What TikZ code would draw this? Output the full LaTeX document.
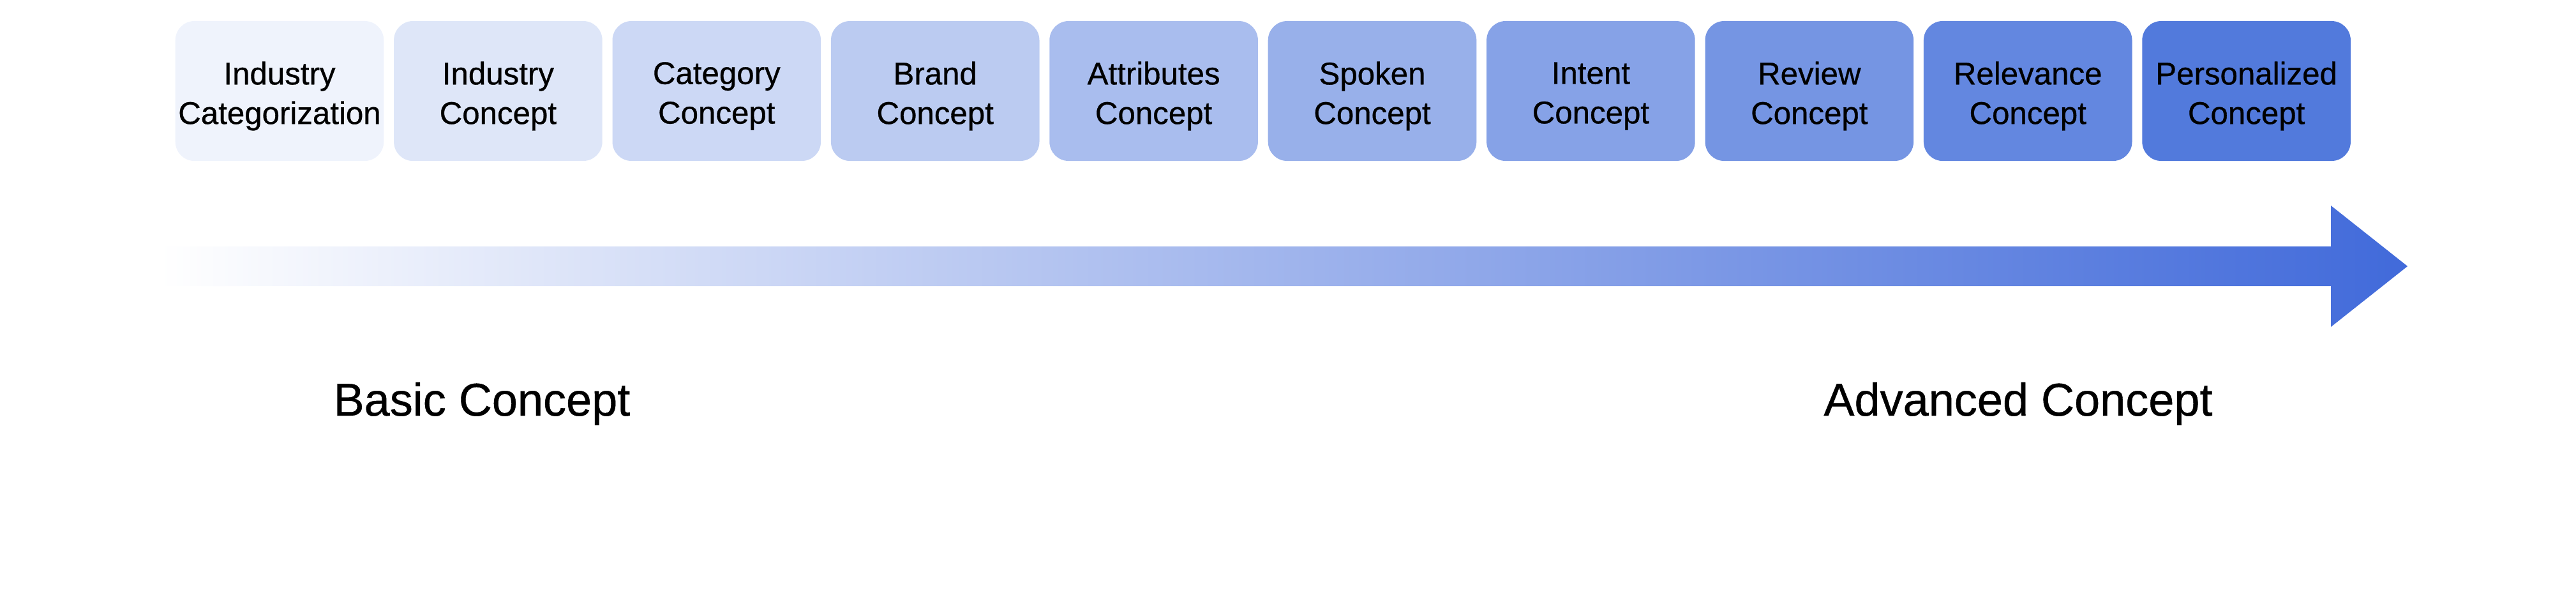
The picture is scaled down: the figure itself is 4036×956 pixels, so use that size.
\documentclass[tikz,border=0pt]{standalone}
\usepackage{fontspec}
\setmainfont{Liberation Sans}
\newfontfamily\medfont{Liberation Sans}[FakeBold=0.6]
\usetikzlibrary{positioning}
\definecolor{boxstart}{RGB}{239,243,252}
\definecolor{boxend}{RGB}{82,122,220}
\definecolor{arrowblue}{RGB}{65,106,218}

\begin{document}
\begin{tikzpicture}[x=0.01cm,y=-0.01cm,
  conceptbox/.style={rounded corners=0.3cm,minimum width=3.264cm,minimum height=2.19cm,
    inner sep=0pt},
  boxtext/.style={inner sep=0pt,align=center,font=\medfont\fontsize{14}{17.6}\selectfont},
  levellabel/.style={anchor=base,font=\medfont\fontsize{20.5}{24}\selectfont}]
\useasboundingbox (0,0) rectangle (4036,956);

% concept boxes, light to dark
\foreach \t [count=\i] in {Industry\\Categorization,Industry\\Concept,Category\\Concept,
    Brand\\Concept,Attributes\\Concept,Spoken\\Concept,Intent\\Concept,
    Review\\Concept,Relevance\\Concept,Personalized\\Concept} {
  \pgfmathsetmacro\mix{100*(\i-1)/9}
  \node[conceptbox,fill=boxend!\mix!boxstart] (c\i) at (438+342.4*\i-342.4,142.5) {};
  \node[boxtext] (t\i) at ([yshift=-0.08cm]c\i.center) {\t};
}

% progress arrow
\coordinate (tailtop) at (250,386);
\coordinate (tailbot) at (250,448);
\coordinate (tip) at (3772,417);
\shade[left color=white,right color=arrowblue]
  (tailtop) -- (3652,386) -- (3652,322) -- (tip) -- (3652,512) -- (3652,448) -- (tailbot) -- cycle;

\node[levellabel] (basic) at (755,651) {Basic Concept};
\node[levellabel] (advanced) at (3162,651) {Advanced Concept};
\end{tikzpicture}
\end{document}
